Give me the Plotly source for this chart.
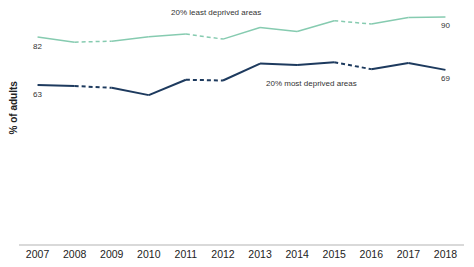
import plotly.graph_objects as go

years = ["2007", "2008", "2009", "2010", "2011", "2012", "2013", "2014", "2015", "2016", "2017", "2018"]
least_deprived = [82, 80.0, 80.4, 82.1, 83.2, 81.2, 85.8, 84.2, 88.5, 87.2, 89.8, 90]
most_deprived = [63, 62.6, 61.9, 59.0, 65.1, 64.8, 71.5, 70.9, 72.0, 69.3, 71.7, 69]
dashed_from = ["2008", "2011", "2015"]  # segment starting at these years is dashed

least_color = "#86cbb0"
most_color = "#1d3a5e"

fig = go.Figure()

def add_series(values, color, width):
    for i in range(len(years) - 1):
        dash = "4px,3px" if years[i] in dashed_from else "solid"
        fig.add_trace(go.Scatter(
            x=[i, i + 1], y=[values[i], values[i + 1]],
            mode="lines", line=dict(color=color, width=width, dash=dash),
            showlegend=False, hoverinfo="skip"))

add_series(least_deprived, least_color, 1.5)
add_series(most_deprived, most_color, 2)

lab_font = dict(family="Liberation Sans, Arial", size=8, color="#333333")
last = len(years) - 1
for xi, val in [(0, least_deprived[0]), (0, most_deprived[0]),
                (last, least_deprived[-1]), (last, most_deprived[-1])]:
    fig.add_annotation(x=xi, y=val, text=str(val), showarrow=False, yshift=-9,
                       xref="x", yref="y", font=lab_font)

fig.add_annotation(x=4.8, y=91.8, text="20% least deprived areas", showarrow=False,
                   xref="x", yref="y", font=lab_font)
fig.add_annotation(x=7.4, y=63.5, text="20% most deprived areas", showarrow=False,
                   xref="x", yref="y", font=lab_font)

fig.update_layout(
    width=474, height=267,
    margin=dict(l=19, r=10, t=0, b=23),
    paper_bgcolor="white", plot_bgcolor="white",
    xaxis=dict(tickmode="array", tickvals=list(range(len(years))), ticktext=years,
               range=[-0.5, 11.5], showgrid=False, zeroline=False,
               showline=True, linecolor="#d9d9d9", linewidth=1.5,
               ticks="", tickfont=dict(family="Liberation Sans, Arial", size=10.5, color="#222222")),
    yaxis=dict(range=[0, 96.7], showgrid=False, zeroline=False, showticklabels=False,
               showline=False, ticks=""),
)
fig.add_annotation(x=0, xref="paper", xanchor="right", xshift=2, y=54.3, yref="y",
                   text="<b>% of adults</b>", textangle=-90, showarrow=False,
                   font=dict(family="Liberation Sans, Arial", size=10, color="#222222"))

fig.write_html("out.html")
